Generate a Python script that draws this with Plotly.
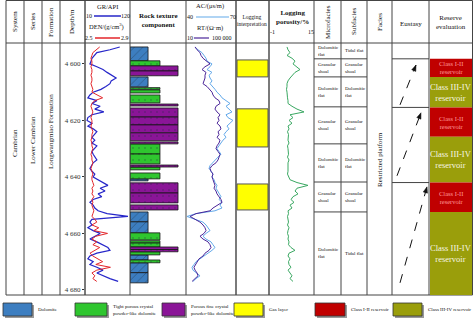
import math
import plotly.graph_objects as go

W, H = 474, 322
FONT = "Liberation Serif"

# ---------------- well-log data ----------------
depth = list(range(4594, 4678))  # sample depths, m

gr = [95, 71, 39, 32, 27, 25, 22, 39, 54, 64,
      76, 86, 74, 71, 61, 49, 30, 22, 17, 39,
      27, 47, 34, 56, 27, 17, 15, 27, 17, 30,
      39, 32, 27, 34, 27, 39, 34, 27, 30, 34,
      39, 30, 27, 22, 27, 34, 30, 42, 54, 66,
      47, 59, 42, 51, 30, 22, 30, 34, 42, 64,
      115, 27, 22, 27, 17, 30, 47, 34, 22, 39,
      54, 66, 71, 39, 22, 17, 30, 22, 39, 54,
      39, 54, 71, 91]

den = [2.62, 2.59, 2.55, 2.54, 2.53, 2.54, 2.54, 2.53, 2.54, 2.54,
       2.53, 2.54, 2.54, 2.53, 2.54, 2.55, 2.54, 2.60, 2.65, 2.57,
       2.54, 2.53, 2.54, 2.55, 2.54, 2.53, 2.54, 2.54, 2.53, 2.54,
       2.55, 2.54, 2.54, 2.53, 2.54, 2.54, 2.55, 2.54, 2.53, 2.54,
       2.54, 2.55, 2.54, 2.53, 2.54, 2.55, 2.54, 2.54, 2.55, 2.56,
       2.54, 2.55, 2.54, 2.56, 2.54, 2.55, 2.54, 2.55, 2.56, 2.55,
       2.54, 2.57, 2.59, 2.54, 2.61, 2.56, 2.70, 2.58, 2.54, 2.59,
       2.55, 2.62, 2.57, 2.52, 2.55, 2.60, 2.65, 2.58, 2.73, 2.59,
       2.54, 2.57, 2.55, 2.59]

ac = [43.5, 45.6, 48.5, 50.0, 51.4, 52.1, 55.7, 54.3, 52.1, 55.7,
      53.6, 54.3, 55.7, 54.3, 56.4, 57.9, 59.3, 61.5, 62.9, 65.8,
      68.7, 65.8, 68.0, 70.1, 65.8, 67.2, 70.8, 68.7, 66.5, 68.0,
      65.8, 64.4, 65.8, 63.6, 62.2, 60.8, 59.3, 60.8, 62.2, 60.0,
      57.9, 55.7, 54.3, 53.6, 55.0, 56.4, 55.7, 57.2, 57.9, 59.3,
      58.6, 60.0, 60.8, 62.2, 60.8, 62.9, 61.5, 62.9, 57.9, 44.2,
      37.7, 44.2, 49.2, 51.4, 52.8, 54.3, 51.4, 49.2, 51.4, 55.0,
      56.4, 57.9, 55.7, 52.8, 50.7, 47.1, 44.2, 42.8, 41.3, 42.0,
      44.9, 47.1, 44.2, 42.0]

rt = [34, 52, 97, 120, 184, 347, 810, 281, 149, 347,
      281, 281, 227, 184, 429, 810, 1240, 1530, 2330, 5450,
      6730, 2880, 2330, 3570, 6730, 4410, 5450, 3570, 6730, 8320,
      4410, 5450, 3570, 6730, 5450, 3570, 2880, 4410, 6730, 5450,
      4410, 2880, 1240, 810, 1000, 1530, 1240, 1530, 1890, 2330,
      1890, 2880, 3570, 5450, 8320, 10300, 3570, 1530, 810, 42,
      12, 34, 97, 184, 281, 347, 227, 97, 184, 530,
      810, 1000, 655, 281, 184, 79, 52, 34, 27, 34,
      52, 64, 34, 18]

por = [5.0, 5.4, 6.2, 5.0, 7.0, 8.2, 7.4, 9.0, 10.2, 8.2,
       7.0, 6.2, 5.4, 5.0, 5.0, 4.8, 5.0, 5.0, 5.2, 5.4,
       5.4, 7.0, 9.0, 11.8, 6.2, 7.4, 5.8, 7.0, 5.4, 5.8,
       5.2, 5.6, 5.4, 5.4, 5.8, 5.2, 5.4, 5.4, 5.6, 5.2,
       5.8, 5.4, 5.4, 5.6, 5.4, 5.2, 5.6, 6.2, 9.0, 13.4,
       9.0, 8.2, 9.4, 7.4, 6.6, 7.8, 6.2, 7.0, 5.4, 5.6,
       5.2, 5.4, 5.6, 5.2, 5.8, 5.4, 5.2, 5.6, 5.4, 5.8,
       5.6, 6.6, 8.2, 5.8, 5.4, 6.2, 5.6, 5.8, 6.6, 5.4,
       6.2, 7.0, 6.2, 7.4]

# rock texture column: layer tops / bottoms (m) and lithology
layer_top = [4594.0, 4598.9, 4600.7, 4602.5, 4604.6, 4608.4, 4609.2, 4611.0, 4614.2, 4615.6,
             4618.8, 4621.6, 4624.4, 4627.6, 4628.3, 4631.9, 4635.8, 4636.5, 4638.6, 4640.7,
             4642.1, 4645.7, 4649.9, 4652.4, 4655.9, 4659.8, 4662.6, 4663.4, 4664.8, 4665.7,
             4666.5, 4667.6, 4669.4, 4670.4, 4673.9]
layer_bot = [4598.9, 4600.7, 4602.5, 4604.2, 4608.1, 4609.0, 4610.3, 4613.8, 4614.9, 4618.8,
             4621.6, 4624.4, 4627.2, 4628.3, 4631.9, 4635.4, 4636.5, 4637.5, 4640.7, 4641.4,
             4645.7, 4649.2, 4651.7, 4655.9, 4659.8, 4662.3, 4663.4, 4664.8, 4665.7, 4666.5,
             4667.6, 4669.4, 4670.4, 4673.9, 4677.5]
layer_lith = ["dolomite", "tight", "porous", "porous", "dolomite", "tight", "tight", "tight", "porous", "porous",
              "porous", "porous", "porous", "porous", "tight", "tight", "porous", "tight", "tight", "dolomite",
              "porous", "porous", "porous", "dolomite", "dolomite", "tight", "tight", "tight", "porous", "porous",
              "tight", "dolomite", "tight", "dolomite", "dolomite"]

# logging interpretation: gas layers
gas_top = [4598.6, 4615.9, 4642.5]
gas_bot = [4604.6, 4629.4, 4651.7]

# sedimentary facies
facies_bounds = [4592.6, 4598.2, 4604.6, 4615.2, 4628.3, 4641.8, 4652.4, 4681.8]
microfacies = ["Dolomitic<br>flat", "Granular<br>shoal", "Dolomitic<br>flat", "Granular<br>shoal",
               "Dolomitic<br>flat", "Granular<br>shoal", "Dolomitic<br>flat"]
subfacies = ["Tidal flat", "Granular<br>shoal", "Dolomitic<br>flat", "Granular<br>shoal",
             "Dolomitic<br>flat", "Granular<br>shoal", "Tidal flat"]

# reserve evaluation
reserve_bounds = [4598.2, 4604.6, 4615.4, 4625.8, 4642.0, 4652.4, 4681.8]
reserve_class = ["I-II", "III-IV", "I-II", "III-IV", "I-II", "III-IV"]

# eustasy cycles (depth of cycle boundaries, arrow start / end depths)
eustasy_bounds = [4598.2, 4615.4, 4642.0]
cycle_start = [4614.5, 4639.6, 4677.5]
cycle_end = [4600.4, 4617.3, 4643.5]

depth_ticks = [4600, 4620, 4640, 4660, 4680]

# ---------------- layout helpers ----------------
D_TOP, D_BOT = 4592.6, 4681.8
Y_HEAD, Y_BOT = 43, 295          # pixel rows of the log body
PX_PER_M = (Y_BOT - Y_HEAD) / (D_BOT - D_TOP)


def px(x):
    return x / W


def py(y):
    return 1 - y / H


fig = go.Figure()

# GR / DEN track
fig.add_trace(go.Scatter(x=den, y=depth, xaxis="x2", yaxis="y", mode="lines",
                         line=dict(color="#e3262b", width=1)))
fig.add_trace(go.Scatter(x=gr, y=depth, xaxis="x", yaxis="y", mode="lines",
                         line=dict(color="#2626c9", width=1.2)))

# rock texture column
LITH = {
    "dolomite": dict(length=1.29, color="#3d7ec0", pattern="/", solidity=0.12),
    "tight": dict(length=2.14, color="#2fc62f", pattern=".", solidity=0.06),
    "porous": dict(length=3.43, color="#8a1597", pattern=".", solidity=0.06),
}
for name, st in LITH.items():
    idx = [i for i, l in enumerate(layer_lith) if l == name]
    fig.add_trace(go.Bar(
        orientation="h", xaxis="x3", yaxis="y",
        x=[st["length"]] * len(idx),
        y=[(layer_top[i] + layer_bot[i]) / 2 for i in idx],
        width=[layer_bot[i] - layer_top[i] for i in idx],
        base=0,
        marker=dict(color=st["color"], line=dict(color="#151515", width=0.8),
                    pattern=dict(shape=st["pattern"], fgcolor="#1a2a3a", size=6,
                                 solidity=st["solidity"])),
    ))

# AC / RT track
fig.add_trace(go.Scatter(x=ac, y=depth, xaxis="x4", yaxis="y", mode="lines",
                         line=dict(color="#63a9ea", width=1)))
fig.add_trace(go.Scatter(x=rt, y=depth, xaxis="x5", yaxis="y", mode="lines",
                         line=dict(color="#4b2599", width=1)))

# porosity track
fig.add_trace(go.Scatter(x=por, y=depth, xaxis="x6", yaxis="y", mode="lines",
                         line=dict(color="#3aa862", width=1)))

shapes = []
ann = []


def vline(x, y0, y1, color="#444", width=1):
    shapes.append(dict(type="line", xref="paper", yref="paper", x0=px(x), x1=px(x),
                       y0=py(y0), y1=py(y1), line=dict(color=color, width=width)))


def hline(y, x0, x1, color="#444", width=1):
    shapes.append(dict(type="line", xref="paper", yref="paper", x0=px(x0), x1=px(x1),
                       y0=py(y), y1=py(y), line=dict(color=color, width=width)))


def text(x, y, s, size=7, angle=0, color="#111", xanchor="center", align="center", bold=False):
    if bold:
        s = "<b>" + s + "</b>"
    ann.append(dict(xref="paper", yref="paper", x=px(x), y=py(y), text=s, showarrow=False,
                    textangle=angle, xanchor=xanchor, yanchor="middle", align=align,
                    font=dict(family=FONT, size=size, color=color)))


# table frame
cols = [6, 24, 42, 60, 130, 186, 314, 341, 367, 392, 429, 472.5]
for c in cols:
    vline(c, 0.5, Y_BOT)
for c in [85, 236, 269]:
    vline(c, 0.5, Y_BOT, color="#7a7a7a", width=2)
hline(0.5, 6, 472.5)
hline(Y_HEAD, 6, 472.5)
hline(Y_BOT, 6, 472.5)

# gas layers
for t, b in zip(gas_top, gas_bot):
    shapes.append(dict(type="rect", xref="paper", yref="y", x0=px(237), x1=px(268), y0=t, y1=b,
                       fillcolor="#ffff00", line=dict(color="#555", width=1)))

# microfacies / subfacies cells
for d in facies_bounds[1:-1]:
    shapes.append(dict(type="line", xref="paper", yref="y", x0=px(314), x1=px(367), y0=d, y1=d,
                       line=dict(color="#444", width=1)))
for i in range(len(microfacies)):
    mid = (facies_bounds[i] + facies_bounds[i + 1]) / 2
    for xx, label in ((316, microfacies[i]), (343, subfacies[i])):
        ann.append(dict(xref="paper", yref="y", x=px(xx), y=mid, text=label, showarrow=False,
                        xanchor="left", yanchor="middle", align="left",
                        font=dict(family=FONT, size=5, color="#111")))

# reserve evaluation boxes
RES_STYLE = {"I-II": dict(fill="#c00000", font="#ff9a9a", size=6.5),
             "III-IV": dict(fill="#9a9e0b", font="#f6f6e4", size=8.5)}
for i, cls in enumerate(reserve_class):
    st = RES_STYLE[cls]
    t, b = reserve_bounds[i], reserve_bounds[i + 1]
    shapes.append(dict(type="rect", xref="paper", yref="y", x0=px(430), x1=px(472), y0=t, y1=b,
                       fillcolor=st["fill"], line=dict(width=0)))
    ann.append(dict(xref="paper", yref="y", x=px(451), y=(t + b) / 2,
                    text=f"Class {cls}<br>reservoir", showarrow=False,
                    xanchor="center", yanchor="middle", align="center",
                    font=dict(family=FONT, size=st["size"], color=st["font"])))

# eustasy cycles: dashed arrows rising through each cycle
for d in eustasy_bounds:
    shapes.append(dict(type="line", xref="paper", yref="y", x0=px(392), x1=px(429), y0=d, y1=d,
                       line=dict(color="#444", width=1)))
arrow_x0 = [400, 397, 400]
arrow_x1 = [416, 421, 427]
for xs, ds, xe, de in zip(arrow_x0, cycle_start, arrow_x1, cycle_end):
    shapes.append(dict(type="line", xref="paper", yref="y", x0=px(xs), y0=ds, x1=px(xe), y1=de,
                       line=dict(color="#111", width=1, dash="dash")))
    dx, dy = xe - xs, (de - ds) * PX_PER_M
    L = math.hypot(dx, dy)
    ux, uy = dx / L, dy / L
    nx, ny = -uy, ux
    pts = [(0, 0), (-ux * 6 + nx * 2.2, -uy * 6 + ny * 2.2), (-ux * 6 - nx * 2.2, -uy * 6 - ny * 2.2)]
    path = "M " + " L ".join(f"{px(xe + ox):.5f},{de + oy / PX_PER_M:.4f}" for ox, oy in pts) + " Z"
    shapes.append(dict(type="path", xref="paper", yref="y", path=path,
                       fillcolor="#111", line=dict(color="#111", width=0.5)))

# header
text(15, 22, "System", angle=-90)
text(33, 22, "Series", angle=-90)
text(51, 22, "Formation", angle=-90)
text(72, 22, "Depth/m", angle=-90)

text(107, 6, "GR/API", size=6.5)
text(89, 16, "10", size=6)
text(126, 16, "120", size=6)
shapes.append(dict(type="line", xref="paper", yref="paper", x0=px(94), x1=px(121), y0=py(16), y1=py(16),
                   line=dict(color="#2626c9", width=1.5)))
text(106, 27, "DEN/(g/cm<sup>3</sup>)", size=6.5)
text(89, 38, "2.5", size=6)
text(125, 38, "2.9", size=6)
shapes.append(dict(type="line", xref="paper", yref="paper", x0=px(95), x1=px(120), y0=py(38), y1=py(38),
                   line=dict(color="#e3262b", width=1.5)))

text(158, 21, "Rock texture<br>component", size=7, bold=True)

text(210, 6, "AC/(μs/m)", size=6.5)
text(190, 17, "40", size=6)
text(233, 17, "70", size=6)
shapes.append(dict(type="line", xref="paper", yref="paper", x0=px(196), x1=px(229), y0=py(17), y1=py(17),
                   line=dict(color="#63a9ea", width=1.2)))
text(210, 28, "RT/(Ω·m)", size=6.5)
text(190, 38, "10", size=6)
text(222, 38, "100 000", size=6)
shapes.append(dict(type="line", xref="paper", yref="paper", x0=px(194), x1=px(209), y0=py(38), y1=py(38),
                   line=dict(color="#4b2599", width=1.2)))

text(252, 20, "Logging<br>interpretation", size=5.5)
text(292, 17, "Logging<br>porosity/%", size=7, bold=True)
text(272, 32, "-1", size=6)
text(311, 32, "15", size=6)

text(328, 22, "Microfacies", angle=-90)
text(354, 22, "Subfacies", angle=-90)
text(380, 22, "Facies", angle=-90)
text(411, 24, "Eustasy", size=7)
text(451, 22, "Reserve<br>evaluation", size=7)

# stratigraphy
text(15, 143, "Cambrian", angle=-90)
text(33, 140, "Lower Cambrian", angle=-90)
text(51, 132, "Longwangmiao Formation", angle=-90)
text(380, 160, "Restricted platform", angle=-90)

# legend
legend_items = [
    (3, 32, "#3d7ec0", "Dolomite"),
    (75, 107, "#2fc62f", "Tight porous crystal<br>powder-like dolomite"),
    (162, 185, "#8a1597", "Porous fine crystal<br>powder-like dolomite"),
    (234, 263, "#ffff00", "Gas layer"),
    (315, 345, "#c00000", "Class I-II reservoir"),
    (393, 422, "#9a9e0b", "Class III-IV reservoir"),
]
for x0, x1, color, label in legend_items:
    shapes.append(dict(type="rect", xref="paper", yref="paper", x0=px(x0 + 2), x1=px(x1 + 2),
                       y0=py(318), y1=py(305), fillcolor="#9a9a9a", line=dict(width=0)))
    shapes.append(dict(type="rect", xref="paper", yref="paper", x0=px(x0), x1=px(x1),
                       y0=py(316), y1=py(303), fillcolor=color, line=dict(color="#333", width=0.8)))
    text(x1 + 4, 309.5, label, size=5, xanchor="left", align="left")

fig.update_layout(
    width=W, height=H, margin=dict(l=0, r=0, t=0, b=0),
    paper_bgcolor="white", plot_bgcolor="white", showlegend=False,
    barmode="overlay",
    xaxis=dict(domain=[px(85), px(130)], range=[10, 120], visible=False, anchor="y"),
    xaxis2=dict(overlaying="x", range=[2.469, 2.931], visible=False),
    xaxis3=dict(domain=[px(130), px(186)], range=[0, 4], visible=False, anchor="y"),
    xaxis4=dict(domain=[px(186), px(236)], range=[37, 73], visible=False, anchor="y"),
    xaxis5=dict(overlaying="x4", type="log", range=[0.7, 5.3], visible=False),
    xaxis6=dict(domain=[px(269), px(314)], range=[-2.2, 15.8], visible=False, anchor="y"),
    yaxis=dict(domain=[py(Y_BOT), py(Y_HEAD)], range=[D_BOT, D_TOP], anchor="free", position=px(85),
               tickvals=depth_ticks, ticktext=[f"{d // 1000} {d % 1000:03d}" for d in depth_ticks],
               ticks="outside", ticklen=3, tickcolor="#333", showgrid=False, zeroline=False,
               showline=False, tickfont=dict(family=FONT, size=7, color="#333")),
    shapes=shapes, annotations=ann,
)

fig.write_html("out.html")
